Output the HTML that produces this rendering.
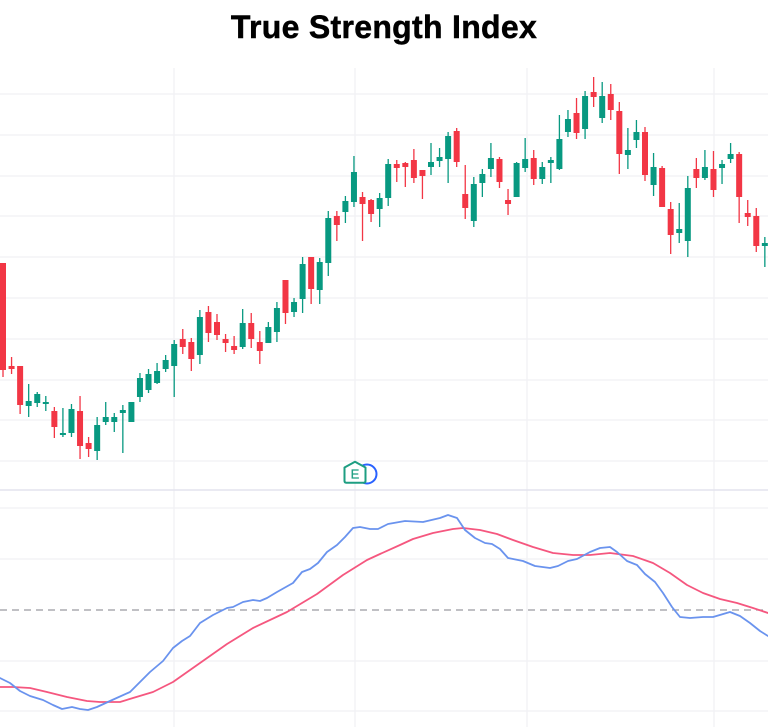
<!DOCTYPE html>
<html>
<head>
<meta charset="utf-8">
<style>
  html, body { margin:0; padding:0; background:#fff; }
  body { width:768px; height:727px; overflow:hidden; }
  svg { display:block; }
  .g { fill:#089981; }
  .r { fill:#f23645; }
  .gw { stroke:#089981; stroke-width:1.3; }
  .rw { stroke:#f23645; stroke-width:1.3; }
</style>
</head>
<body>
<svg width="768" height="727" viewBox="0 0 768 727" xmlns="http://www.w3.org/2000/svg">
  <rect x="0" y="0" width="768" height="727" fill="#ffffff"/>
  <text x="384" y="38" text-anchor="middle" font-family="Liberation Sans, Arial, sans-serif" font-weight="bold" font-size="32" letter-spacing="0.3" fill="#000" stroke="#000" stroke-width="0.5">True Strength Index</text>

  <!-- grid -->
  <g stroke="#f1f1f4" stroke-width="1.3">
    <line x1="0" y1="94" x2="768" y2="94"/>
    <line x1="0" y1="135" x2="768" y2="135"/>
    <line x1="0" y1="176" x2="768" y2="176"/>
    <line x1="0" y1="216" x2="768" y2="216"/>
    <line x1="0" y1="257" x2="768" y2="257"/>
    <line x1="0" y1="298" x2="768" y2="298"/>
    <line x1="0" y1="339" x2="768" y2="339"/>
    <line x1="0" y1="380" x2="768" y2="380"/>
    <line x1="0" y1="420" x2="768" y2="420"/>
    <line x1="0" y1="461" x2="768" y2="461"/>
    <line x1="0" y1="508" x2="768" y2="508"/>
    <line x1="0" y1="559" x2="768" y2="559"/>
    <line x1="0" y1="661" x2="768" y2="661"/>
    <line x1="0" y1="711" x2="768" y2="711"/>
    <line x1="174" y1="68" x2="174" y2="727"/>
    <line x1="355" y1="68" x2="355" y2="727"/>
    <line x1="527" y1="68" x2="527" y2="727"/>
    <line x1="714" y1="68" x2="714" y2="727"/>
  </g>
  <line x1="0" y1="490" x2="768" y2="490" stroke="#e4e4ee" stroke-width="1.6"/>

  <!-- wicks -->
  <g>
    <line class="rw" x1="3" y1="263" x2="3" y2="377"/>
    <line class="rw" x1="11.56" y1="357" x2="11.56" y2="374"/>
    <line class="rw" x1="20.12" y1="366" x2="20.12" y2="414"/>
    <line class="gw" x1="28.68" y1="384" x2="28.68" y2="417"/>
    <line class="gw" x1="37.24" y1="392" x2="37.24" y2="407"/>
    <line class="gw" x1="45.8" y1="396" x2="45.8" y2="411"/>
    <line class="rw" x1="54.36" y1="407" x2="54.36" y2="438"/>
    <line class="gw" x1="62.92" y1="408" x2="62.92" y2="437"/>
    <line class="gw" x1="71.48" y1="404" x2="71.48" y2="437"/>
    <line class="rw" x1="80.04" y1="396" x2="80.04" y2="459"/>
    <line class="rw" x1="88.6" y1="437" x2="88.6" y2="457"/>
    <line class="gw" x1="97.16" y1="417" x2="97.16" y2="460"/>
    <line class="gw" x1="105.72" y1="402" x2="105.72" y2="425"/>
    <line class="gw" x1="114.28" y1="413" x2="114.28" y2="432"/>
    <line class="gw" x1="122.84" y1="405" x2="122.84" y2="453"/>
    <line class="gw" x1="131.4" y1="402" x2="131.4" y2="422"/>
    <line class="gw" x1="139.96" y1="373" x2="139.96" y2="402"/>
    <line class="gw" x1="148.52" y1="369" x2="148.52" y2="393"/>
    <line class="gw" x1="157.08" y1="363" x2="157.08" y2="384"/>
    <line class="gw" x1="165.64" y1="355" x2="165.64" y2="372"/>
    <line class="gw" x1="174.2" y1="340" x2="174.2" y2="397"/>
    <line class="rw" x1="182.76" y1="329" x2="182.76" y2="354"/>
    <line class="rw" x1="191.32" y1="338" x2="191.32" y2="371"/>
    <line class="gw" x1="199.88" y1="310" x2="199.88" y2="364"/>
    <line class="rw" x1="208.44" y1="306" x2="208.44" y2="342"/>
    <line class="rw" x1="217" y1="314" x2="217" y2="340"/>
    <line class="rw" x1="225.56" y1="334" x2="225.56" y2="352"/>
    <line class="rw" x1="234.12" y1="336" x2="234.12" y2="354"/>
    <line class="gw" x1="242.68" y1="309" x2="242.68" y2="349"/>
    <line class="rw" x1="251.24" y1="313" x2="251.24" y2="348"/>
    <line class="rw" x1="259.8" y1="331" x2="259.8" y2="364"/>
    <line class="gw" x1="268.36" y1="322" x2="268.36" y2="343"/>
    <line class="gw" x1="276.92" y1="302" x2="276.92" y2="342"/>
    <line class="rw" x1="285.48" y1="280" x2="285.48" y2="324"/>
    <line class="gw" x1="294.04" y1="298" x2="294.04" y2="317"/>
    <line class="gw" x1="302.6" y1="257" x2="302.6" y2="313"/>
    <line class="rw" x1="311.16" y1="257" x2="311.16" y2="304"/>
    <line class="gw" x1="319.72" y1="258" x2="319.72" y2="304"/>
    <line class="gw" x1="328.28" y1="211" x2="328.28" y2="276"/>
    <line class="rw" x1="336.84" y1="211" x2="336.84" y2="241"/>
    <line class="gw" x1="345.4" y1="196" x2="345.4" y2="223"/>
    <line class="gw" x1="353.96" y1="156" x2="353.96" y2="207"/>
    <line class="rw" x1="362.52" y1="192" x2="362.52" y2="241"/>
    <line class="rw" x1="371.08" y1="199" x2="371.08" y2="222"/>
    <line class="gw" x1="379.64" y1="193" x2="379.64" y2="227"/>
    <line class="gw" x1="388.2" y1="159" x2="388.2" y2="206"/>
    <line class="rw" x1="396.76" y1="160" x2="396.76" y2="182"/>
    <line class="rw" x1="405.32" y1="162" x2="405.32" y2="187"/>
    <line class="rw" x1="413.88" y1="149" x2="413.88" y2="183"/>
    <line class="rw" x1="422.44" y1="170" x2="422.44" y2="199"/>
    <line class="gw" x1="431" y1="143" x2="431" y2="175"/>
    <line class="gw" x1="439.56" y1="148" x2="439.56" y2="167"/>
    <line class="gw" x1="448.12" y1="132" x2="448.12" y2="183"/>
    <line class="rw" x1="456.68" y1="128" x2="456.68" y2="167"/>
    <line class="rw" x1="465.24" y1="165" x2="465.24" y2="219"/>
    <line class="gw" x1="473.8" y1="177" x2="473.8" y2="227"/>
    <line class="gw" x1="482.36" y1="169" x2="482.36" y2="197"/>
    <line class="gw" x1="490.92" y1="143" x2="490.92" y2="177"/>
    <line class="rw" x1="499.48" y1="157" x2="499.48" y2="188"/>
    <line class="rw" x1="508.04" y1="189" x2="508.04" y2="215"/>
    <line class="gw" x1="516.6" y1="162" x2="516.6" y2="197"/>
    <line class="gw" x1="525.16" y1="138" x2="525.16" y2="172"/>
    <line class="rw" x1="533.72" y1="150" x2="533.72" y2="185"/>
    <line class="gw" x1="542.28" y1="162" x2="542.28" y2="184"/>
    <line class="gw" x1="550.84" y1="157" x2="550.84" y2="183"/>
    <line class="gw" x1="559.4" y1="115" x2="559.4" y2="170"/>
    <line class="gw" x1="567.96" y1="110" x2="567.96" y2="137"/>
    <line class="rw" x1="576.52" y1="98" x2="576.52" y2="139"/>
    <line class="gw" x1="585.08" y1="91" x2="585.08" y2="139"/>
    <line class="rw" x1="593.64" y1="77" x2="593.64" y2="107"/>
    <line class="gw" x1="602.2" y1="82" x2="602.2" y2="123"/>
    <line class="rw" x1="610.76" y1="84" x2="610.76" y2="120"/>
    <line class="rw" x1="619.32" y1="102" x2="619.32" y2="174"/>
    <line class="gw" x1="627.88" y1="128" x2="627.88" y2="169"/>
    <line class="gw" x1="636.44" y1="120" x2="636.44" y2="148"/>
    <line class="rw" x1="645" y1="127" x2="645" y2="181"/>
    <line class="gw" x1="653.56" y1="153" x2="653.56" y2="196"/>
    <line class="rw" x1="662.12" y1="166" x2="662.12" y2="207"/>
    <line class="rw" x1="670.68" y1="202" x2="670.68" y2="254"/>
    <line class="gw" x1="679.24" y1="203" x2="679.24" y2="243"/>
    <line class="gw" x1="687.8" y1="176" x2="687.8" y2="257"/>
    <line class="rw" x1="696.36" y1="158" x2="696.36" y2="188"/>
    <line class="gw" x1="704.92" y1="150" x2="704.92" y2="180"/>
    <line class="rw" x1="713.48" y1="151" x2="713.48" y2="197"/>
    <line class="gw" x1="722.04" y1="160" x2="722.04" y2="184"/>
    <line class="gw" x1="730.6" y1="143" x2="730.6" y2="163"/>
    <line class="rw" x1="739.16" y1="152" x2="739.16" y2="223"/>
    <line class="rw" x1="747.72" y1="200" x2="747.72" y2="226"/>
    <line class="rw" x1="756.28" y1="208" x2="756.28" y2="252"/>
    <line class="gw" x1="764.84" y1="237" x2="764.84" y2="267"/>
  </g>

  <!-- bodies -->
  <g>
    <rect class="r" x="0" y="263" width="6" height="107"/>
    <rect class="r" x="8.56" y="366" width="6" height="3"/>
    <rect class="r" x="17.12" y="366" width="6" height="39"/>
    <rect class="g" x="25.68" y="401" width="6" height="5"/>
    <rect class="g" x="34.24" y="394" width="6" height="9"/>
    <rect class="g" x="42.8" y="402" width="6" height="2"/>
    <rect class="r" x="51.36" y="411" width="6" height="16"/>
    <rect class="g" x="59.92" y="433" width="6" height="2"/>
    <rect class="g" x="68.48" y="409" width="6" height="24"/>
    <rect class="r" x="77.04" y="411" width="6" height="35"/>
    <rect class="r" x="85.6" y="443" width="6" height="6"/>
    <rect class="g" x="94.16" y="425" width="6" height="26"/>
    <rect class="g" x="102.72" y="417" width="6" height="5"/>
    <rect class="g" x="111.28" y="417" width="6" height="5"/>
    <rect class="g" x="119.84" y="410" width="6" height="3"/>
    <rect class="g" x="128.4" y="402" width="6" height="20"/>
    <rect class="g" x="136.96" y="378" width="6" height="19"/>
    <rect class="g" x="145.52" y="374" width="6" height="16"/>
    <rect class="g" x="154.08" y="371" width="6" height="12"/>
    <rect class="g" x="162.64" y="360" width="6" height="9"/>
    <rect class="g" x="171.2" y="344" width="6" height="22"/>
    <rect class="r" x="179.76" y="339" width="6" height="8"/>
    <rect class="r" x="188.32" y="342" width="6" height="17"/>
    <rect class="g" x="196.88" y="317" width="6" height="38"/>
    <rect class="r" x="205.44" y="312" width="6" height="21"/>
    <rect class="r" x="214" y="322" width="6" height="13"/>
    <rect class="r" x="222.56" y="339" width="6" height="4"/>
    <rect class="r" x="231.12" y="346" width="6" height="4"/>
    <rect class="g" x="239.68" y="323" width="6" height="24"/>
    <rect class="r" x="248.24" y="323" width="6" height="16"/>
    <rect class="r" x="256.8" y="342" width="6" height="9"/>
    <rect class="g" x="265.36" y="327" width="6" height="16"/>
    <rect class="g" x="273.92" y="308" width="6" height="24"/>
    <rect class="r" x="282.48" y="280" width="6" height="33"/>
    <rect class="g" x="291.04" y="302" width="6" height="10"/>
    <rect class="g" x="299.6" y="264" width="6" height="35"/>
    <rect class="r" x="308.16" y="257" width="6" height="32"/>
    <rect class="g" x="316.72" y="262" width="6" height="28"/>
    <rect class="g" x="325.28" y="218" width="6" height="45"/>
    <rect class="r" x="333.84" y="216" width="6" height="9"/>
    <rect class="g" x="342.4" y="201" width="6" height="11"/>
    <rect class="g" x="350.96" y="172" width="6" height="30"/>
    <rect class="r" x="359.52" y="197" width="6" height="7"/>
    <rect class="r" x="368.08" y="200" width="6" height="14"/>
    <rect class="g" x="376.64" y="198" width="6" height="11"/>
    <rect class="g" x="385.2" y="164" width="6" height="34"/>
    <rect class="r" x="393.76" y="164" width="6" height="4"/>
    <rect class="r" x="402.32" y="163" width="6" height="4"/>
    <rect class="r" x="410.88" y="160" width="6" height="18"/>
    <rect class="r" x="419.44" y="170" width="6" height="6"/>
    <rect class="g" x="428" y="162" width="6" height="5"/>
    <rect class="g" x="436.56" y="157" width="6" height="4"/>
    <rect class="g" x="445.12" y="136" width="6" height="23"/>
    <rect class="r" x="453.68" y="131" width="6" height="31"/>
    <rect class="r" x="462.24" y="194" width="6" height="14"/>
    <rect class="g" x="470.8" y="184" width="6" height="37"/>
    <rect class="g" x="479.36" y="174" width="6" height="9"/>
    <rect class="g" x="487.92" y="158" width="6" height="11"/>
    <rect class="r" x="496.48" y="159" width="6" height="23"/>
    <rect class="r" x="505.04" y="200" width="6" height="4"/>
    <rect class="g" x="513.6" y="163" width="6" height="34"/>
    <rect class="g" x="522.16" y="159" width="6" height="9"/>
    <rect class="r" x="530.72" y="158" width="6" height="21"/>
    <rect class="g" x="539.28" y="167" width="6" height="12"/>
    <rect class="g" x="547.84" y="160" width="6" height="3"/>
    <rect class="g" x="556.4" y="139" width="6" height="30"/>
    <rect class="g" x="564.96" y="119" width="6" height="13"/>
    <rect class="r" x="573.52" y="113" width="6" height="20"/>
    <rect class="g" x="582.08" y="96" width="6" height="33"/>
    <rect class="r" x="590.64" y="92" width="6" height="5"/>
    <rect class="g" x="599.2" y="96" width="6" height="22"/>
    <rect class="r" x="607.76" y="94" width="6" height="16"/>
    <rect class="r" x="616.32" y="111" width="6" height="43"/>
    <rect class="g" x="624.88" y="150" width="6" height="5"/>
    <rect class="g" x="633.44" y="132" width="6" height="8"/>
    <rect class="r" x="642" y="132" width="6" height="43"/>
    <rect class="g" x="650.56" y="167" width="6" height="18"/>
    <rect class="r" x="659.12" y="168" width="6" height="39"/>
    <rect class="r" x="667.68" y="209" width="6" height="26"/>
    <rect class="g" x="676.24" y="229" width="6" height="4"/>
    <rect class="g" x="684.8" y="188" width="6" height="53"/>
    <rect class="r" x="693.36" y="169" width="6" height="9"/>
    <rect class="g" x="701.92" y="167" width="6" height="11"/>
    <rect class="r" x="710.48" y="169" width="6" height="21"/>
    <rect class="g" x="719.04" y="164" width="6" height="4"/>
    <rect class="g" x="727.6" y="154" width="6" height="5"/>
    <rect class="r" x="736.16" y="154" width="6" height="43"/>
    <rect class="r" x="744.72" y="213" width="6" height="4"/>
    <rect class="r" x="753.28" y="216" width="6" height="30"/>
    <rect class="g" x="761.84" y="243" width="6" height="3"/>
  </g>

  <!-- E marker -->
  <circle cx="367" cy="474" r="9.5" fill="#ffffff" stroke="#2962ff" stroke-width="2"/>
  <path d="M344.5 467.5 L355 461.8 L365.5 467.5 L365.5 481 Q365.5 482.7 363.8 482.7 L346.2 482.7 Q344.5 482.7 344.5 481 Z" fill="#ffffff" stroke="#1e9e82" stroke-width="2" stroke-linejoin="round"/>
  <text x="355" y="478.5" text-anchor="middle" font-family="Liberation Sans, Arial, sans-serif" font-size="13" fill="#1e9e82" stroke="#1e9e82" stroke-width="0.3">E</text>

  <!-- zero dashed line -->
  <line x1="0" y1="610" x2="768" y2="610" stroke="#9a9aa0" stroke-width="1.3" stroke-dasharray="7 5"/>

  <!-- signal (pink) -->
  <polyline fill="none" stroke="#f5577f" stroke-width="1.8" stroke-linejoin="round" stroke-linecap="round"
    points="0,687 13,687 30,688 47,692 67,697 87,701 100,702 120,702 133,698 153,692 173,682 200,663 227,644 253,628 287,612 317,594 343,575 367,560 380,554 400,545 413,539 433,533 453,529 463,528 480,530 497,534 513,540 533,547 553,553 573,555 590,555 610,553 633,556 653,563 670,573 687,585 703,593 720,599 737,603 753,608 768,613"/>

  <!-- TSI (blue) -->
  <polyline fill="none" stroke="#6a93ee" stroke-width="1.8" stroke-linejoin="round" stroke-linecap="round"
    points="0,678 10,683 20,691 30,696 43,700 53,705 62,709 72,707 80,709 88,710 97,707 110,701 130,692 140,682 150,672 163,661 173,648 182,641 190,636 200,623 213,615 227,608 233,607 243,602 253,600 260,601 267,598 277,592 293,583 302,572 310,569 318,563 327,552 337,545 345,537 353,528 360,527 370,529 378,529 388,524 405,521 423,522 440,518 448,515 457,518 465,530 475,538 485,543 492,544 500,549 508,558 523,561 535,566 550,568 558,566 568,561 577,559 590,552 600,548 610,547 617,552 627,561 637,565 645,574 655,582 663,593 672,607 680,617 690,618 703,617 713,617 730,612 740,616 750,623 760,631 768,636"/>
</svg>
</body>
</html>
